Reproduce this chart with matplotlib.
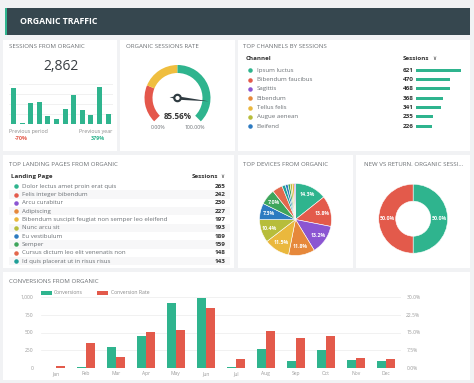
import matplotlib
matplotlib.use("Agg")
import matplotlib.pyplot as plt
from matplotlib.patches import Rectangle, Circle, Polygon
import numpy as np

W, H = 474, 383
plt.rcParams['font.family'] = ['Open Sans', 'DejaVu Sans']

# ---------------- data ----------------
session_bars = [491, 23, 288, 302, 117, 77, 203, 397, 189, 126, 509, 140]
sessions_total = "2,862"
prev_period_label = "Previous period"
prev_period_value = "-70%"
prev_year_label = "Previous year"
prev_year_value = "379%"

rate_value = 85.56
gauge_bands = [25, 25, 50]
gauge_min_label = "0.00%"
gauge_max_label = "100.00%"

channels = ["Ipsum luctus", "Bibendum faucibus", "Sagittis", "Bibendum",
            "Tellus felis", "Augue aenean", "Eleifend"]
channel_sessions = [621, 470, 468, 368, 341, 235, 226]

landing_pages = ["Dolor lectus amet proin erat quis", "Felis integer bibendum",
                 "Arcu curabitur", "Adipiscing",
                 "Bibendum suscipit feugiat non semper leo eleifend",
                 "Nunc arcu sit", "Eu vestibulum", "Semper",
                 "Cursus dictum leo elit venenatis non",
                 "Id quis placerat ut in risus risus"]
landing_sessions = [265, 242, 230, 227, 197, 193, 189, 159, 148, 143]

device_shares = [14.3, 13.8, 13.2, 11.8, 11.5, 10.4, 7.3, 7.0,
                 4.6, 1.5, 1.2, 1.0, 0.9, 0.9, 0.6]

new_return = [50.0, 50.0]

months = ["Jan", "Feb", "Mar", "Apr", "May", "Jun",
          "Jul", "Aug", "Sep", "Oct", "Nov", "Dec"]
conversions = [0, 23, 298, 451, 907, 986, 14, 265, 102, 260, 112, 107]
conv_rate = [1.1, 10.7, 4.6, 15.1, 16.2, 25.4, 3.9, 15.6, 12.6, 13.5, 4.5, 3.8]
left_ticks = [0, 250, 500, 750, 1000]
left_tick_labels = ["0", "250", "500", "750", "1,000"]
right_ticks = [0, 7.5, 15, 22.5, 30]
right_tick_labels = ["0.0%", "7.5%", "15.0%", "22.5%", "30.0%"]

# ---------------- style ----------------
TEAL = "#2fb48e"
RED = "#e35a4b"
PURPLE = "#8b55d2"
ORANGE = "#e6883b"
YELLOW = "#eab83d"
OLIVE = "#b7bd3b"
BLUE = "#2d7bc1"
GREEN = "#3ea55c"
SALMON = "#e3684d"
DTEAL = "#1f9f98"
GAUGE_RED = "#e4574b"
GAUGE_YEL = "#efbe3f"
DARK = "#2f3b41"
TITLE_C = "#6a6e72"
TEXT_C = "#6b7075"
TICK_C = "#9a9a9a"

channel_colors = [TEAL, RED, PURPLE, ORANGE, YELLOW, OLIVE, BLUE]
landing_colors = [TEAL, RED, PURPLE, ORANGE, YELLOW, OLIVE, BLUE, GREEN, SALMON, DTEAL]
device_colors = [TEAL, RED, PURPLE, ORANGE, YELLOW, OLIVE, BLUE, GREEN,
                 SALMON, DTEAL, BLUE, GREEN, OLIVE, YELLOW, PURPLE]

fig = plt.figure(figsize=(W / 100, H / 100), dpi=100)
fig.patch.set_facecolor("#f1f2f4")


def rect(x0, y0, x1, y1):
    return [x0 / W, 1 - y1 / H, (x1 - x0) / W, (y1 - y0) / H]


def ftext(x, y, s, **kw):
    kw.setdefault("va", "center")
    fig.text(x / W, 1 - y / H, s, **kw)


def card(x0, y0, x1, y1, color="white"):
    fig.add_artist(Rectangle((x0 / W, 1 - y1 / H), (x1 - x0) / W, (y1 - y0) / H,
                             transform=fig.transFigure, facecolor=color,
                             edgecolor="none", zorder=-5))


def title(x, y, s):
    ftext(x, y, s, fontsize=4.4, color=TITLE_C)


# header
card(4.5, 8, 469.5, 35, "#36474f")
card(4.5, 8, 7, 35, TEAL)
ftext(20, 21.5, "ORGANIC TRAFFIC", fontsize=6.3, color="white", fontweight="bold")

# cards
card(3, 40, 117, 150.5)
card(120, 40, 234.5, 150.5)
card(237.5, 40, 469.5, 150.5)
card(3, 155, 233.5, 268)
card(237.5, 155, 352.5, 268)
card(356, 155, 469.5, 268)
card(3, 272, 469.5, 380)

# ---------- sessions from organic ----------
title(9, 47, "SESSIONS FROM ORGANIC")
ftext(60.5, 66.3, sessions_total, fontsize=10, color="#3a3f44", ha="center")
ax1 = fig.add_axes(rect(9.2, 84.3, 112.5, 124.3))
ax1.bar(range(len(session_bars)), session_bars, width=0.58, color=TEAL, zorder=3)
ax1.set_xlim(-0.5, len(session_bars) - 0.5)
ax1.set_ylim(0, 540)
ax1.set_yticks([135, 270, 405, 540])
ax1.grid(axis="y", color="#ececec", lw=0.5)
ax1.tick_params(left=False, bottom=False, labelleft=False, labelbottom=False)
for s in ax1.spines.values():
    s.set_visible(False)
ax1.set_facecolor("none")
ftext(9, 131.3, prev_period_label, fontsize=3.8, color="#8a8a8a")
ftext(15, 138.8, prev_period_value, fontsize=3.9, color=RED, fontweight="bold")
ftext(112, 131.3, prev_year_label, fontsize=3.8, color="#8a8a8a", ha="right")
ftext(98, 138.8, prev_year_value, fontsize=3.9, color=TEAL, fontweight="bold", ha="center")

# ---------- gauge ----------
title(126, 47, "ORGANIC SESSIONS RATE")
gx, gy = 177.5, 98
axg = fig.add_axes(rect(gx - 40, gy - 40, gx + 40, gy + 40))
axg.pie(gauge_bands + [sum(gauge_bands) / 3], radius=33, startangle=225,
        counterclock=False, colors=[GAUGE_RED, GAUGE_YEL, TEAL, "none"],
        wedgeprops=dict(width=8, edgecolor="none"))
axg.set_xlim(-40, 40)
axg.set_ylim(-40, 40)
axg.set_aspect("equal")
axg.axis("off")
theta = np.deg2rad(225 - rate_value / 100 * 270)
d = np.array([np.cos(theta), np.sin(theta)])
p = np.array([-d[1], d[0]])
needle = [tuple(d * 31.5), tuple(p * 1.7), tuple(-d * 8), tuple(-p * 1.7)]
axg.add_patch(Polygon(needle, closed=True, facecolor=DARK, edgecolor="none", zorder=5))
axg.add_patch(Circle((0, 0), 4.3, facecolor=DARK, zorder=6))
axg.add_patch(Circle((0, 0), 2.1, facecolor="white", zorder=7))
ftext(gx, 116.3, f"{rate_value:.2f}%", fontsize=5.8, color="#333", fontweight="bold", ha="center")
ftext(158, 127.3, gauge_min_label, fontsize=3.7, color=TEXT_C, ha="center")
ftext(195, 127.3, gauge_max_label, fontsize=3.7, color=TEXT_C, ha="center")

# ---------- top channels ----------
title(243.3, 46.5, "TOP CHANNELS BY SESSIONS")
ftext(245.5, 58.7, "Channel", fontsize=4.5, color="#333", fontweight="bold")
ftext(402.7, 58.7, "Sessions", fontsize=4.5, color="#333", fontweight="bold")
ftext(434.3, 58.9, "\u2228", fontsize=4.0, color="#333", ha="center")
axc = fig.add_axes(rect(243, 65.6, 466, 131))
axc.set_xlim(243, 466)
axc.set_ylim(len(channels) - 0.5, -0.5)
axc.axis("off")
for i, (name, val, col) in enumerate(zip(channels, channel_sessions, channel_colors)):
    axc.scatter([250], [i], s=5, color=col, zorder=3)
    axc.text(256.7, i, name, fontsize=4.4, color=TEXT_C, va="center")
    axc.text(414, i, f"{val}", fontsize=4.6, color="#333", fontweight="bold",
             va="center", ha="right")
axcb = fig.add_axes(rect(416, 65.6, 466, 131))
axcb.barh(range(len(channels)), channel_sessions, height=0.32, color=TEAL)
axcb.set_xlim(0, 690)
axcb.set_ylim(len(channels) - 0.5, -0.5)
axcb.axis("off")

# ---------- landing pages ----------
title(9, 164.3, "TOP LANDING PAGES FROM ORGANIC")
ftext(11, 176.2, "Landing Page", fontsize=4.5, color="#333", fontweight="bold")
ftext(191.7, 176.2, "Sessions", fontsize=4.5, color="#333", fontweight="bold")
ftext(222.3, 176.4, "\u2228", fontsize=4.0, color="#333", ha="center")
axl = fig.add_axes(rect(9, 182.1, 230, 265.2))
axl.set_xlim(9, 230)
axl.set_ylim(len(landing_pages) - 0.5, -0.5)
axl.axis("off")
for i, (name, val, col) in enumerate(zip(landing_pages, landing_sessions, landing_colors)):
    if i % 2 == 1:
        axl.axhspan(i - 0.5, i + 0.5, xmin=0.0, xmax=1.0, color="#f7f7f8", zorder=0, lw=0)
    axl.scatter([15.7], [i], s=5, color=col, zorder=3)
    axl.text(22, i, name, fontsize=4.4, color=TEXT_C, va="center")
    axl.text(226, i, f"{val}", fontsize=4.6, color="#333", fontweight="bold",
             va="center", ha="right")

# ---------- devices pie ----------
title(243.3, 164.3, "TOP DEVICES FROM ORGANIC")
px_, py_ = 295.5, 219.5
axp = fig.add_axes(rect(px_ - 40, py_ - 40, px_ + 40, py_ + 40))
axp.pie(device_shares, radius=36, startangle=90, counterclock=False,
        colors=device_colors,
        wedgeprops=dict(edgecolor="white", linewidth=0.4),
        autopct=lambda v: f"{v:.1f}%" if v >= 7 else "", pctdistance=0.76,
        textprops=dict(color="white", fontsize=3.8, fontweight="bold"))
axp.set_xlim(-40, 40)
axp.set_ylim(-40, 40)
axp.set_aspect("equal")
axp.axis("off")

# ---------- new vs return donut ----------
title(364, 164.3, "NEW VS RETURN. ORGANIC SESSI...")
dx_, dy_ = 413.2, 218.7
axd = fig.add_axes(rect(dx_ - 40, dy_ - 40, dx_ + 40, dy_ + 40))
axd.pie(new_return, radius=34.5, startangle=90, counterclock=True,
        colors=[RED, TEAL],
        wedgeprops=dict(width=17, edgecolor="white", linewidth=0.4),
        autopct=lambda v: f"{v:.1f}%", pctdistance=0.75,
        textprops=dict(color="white", fontsize=3.8, fontweight="bold"))
axd.set_xlim(-40, 40)
axd.set_ylim(-40, 40)
axd.set_aspect("equal")
axd.axis("off")

# ---------- conversions ----------
title(9, 281.3, "CONVERSIONS FROM ORGANIC")
fig.add_artist(Rectangle((40.7 / W, 1 - 294.7 / H), 11 / W, 4 / H,
                         transform=fig.transFigure, facecolor=TEAL, edgecolor="none"))
ftext(54, 292.7, "Conversions", fontsize=3.7, color="#8a8a8a")
fig.add_artist(Rectangle((97 / W, 1 - 294.7 / H), 11.3 / W, 4 / H,
                         transform=fig.transFigure, facecolor=RED, edgecolor="none"))
ftext(110.7, 292.7, "Conversion Rate", fontsize=3.7, color="#8a8a8a")

axb = fig.add_axes(rect(40.7, 296.7, 400.7, 368.3))
x = np.arange(len(months))
axb.bar(x - 0.15, conversions, width=0.3, color=TEAL, zorder=3)
axb.set_xlim(-0.5, len(months) - 0.5)
axb.set_ylim(0, 1000)
axb.set_yticks(left_ticks)
axb.set_yticklabels(left_tick_labels)
axb.set_xticks(x)
axb.set_xticklabels(months)
axb.grid(axis="y", color="#ebebeb", lw=0.5, zorder=0)
axb.tick_params(length=0, labelsize=3.6, labelcolor=TICK_C)
axb.tick_params(axis="y", pad=5)
axb.tick_params(axis="x", pad=2)
for s in axb.spines.values():
    s.set_visible(False)
axb.set_facecolor("none")
axr = axb.twinx()
axr.bar(x + 0.15, conv_rate, width=0.3, color=RED, zorder=3)
axr.set_ylim(0, 30)
axr.set_yticks(right_ticks)
axr.set_yticklabels(right_tick_labels)
axr.tick_params(length=0, labelsize=3.6, labelcolor=TICK_C, pad=4)
for s in axr.spines.values():
    s.set_visible(False)

fig.savefig("out.png", dpi=100, facecolor=fig.get_facecolor())
